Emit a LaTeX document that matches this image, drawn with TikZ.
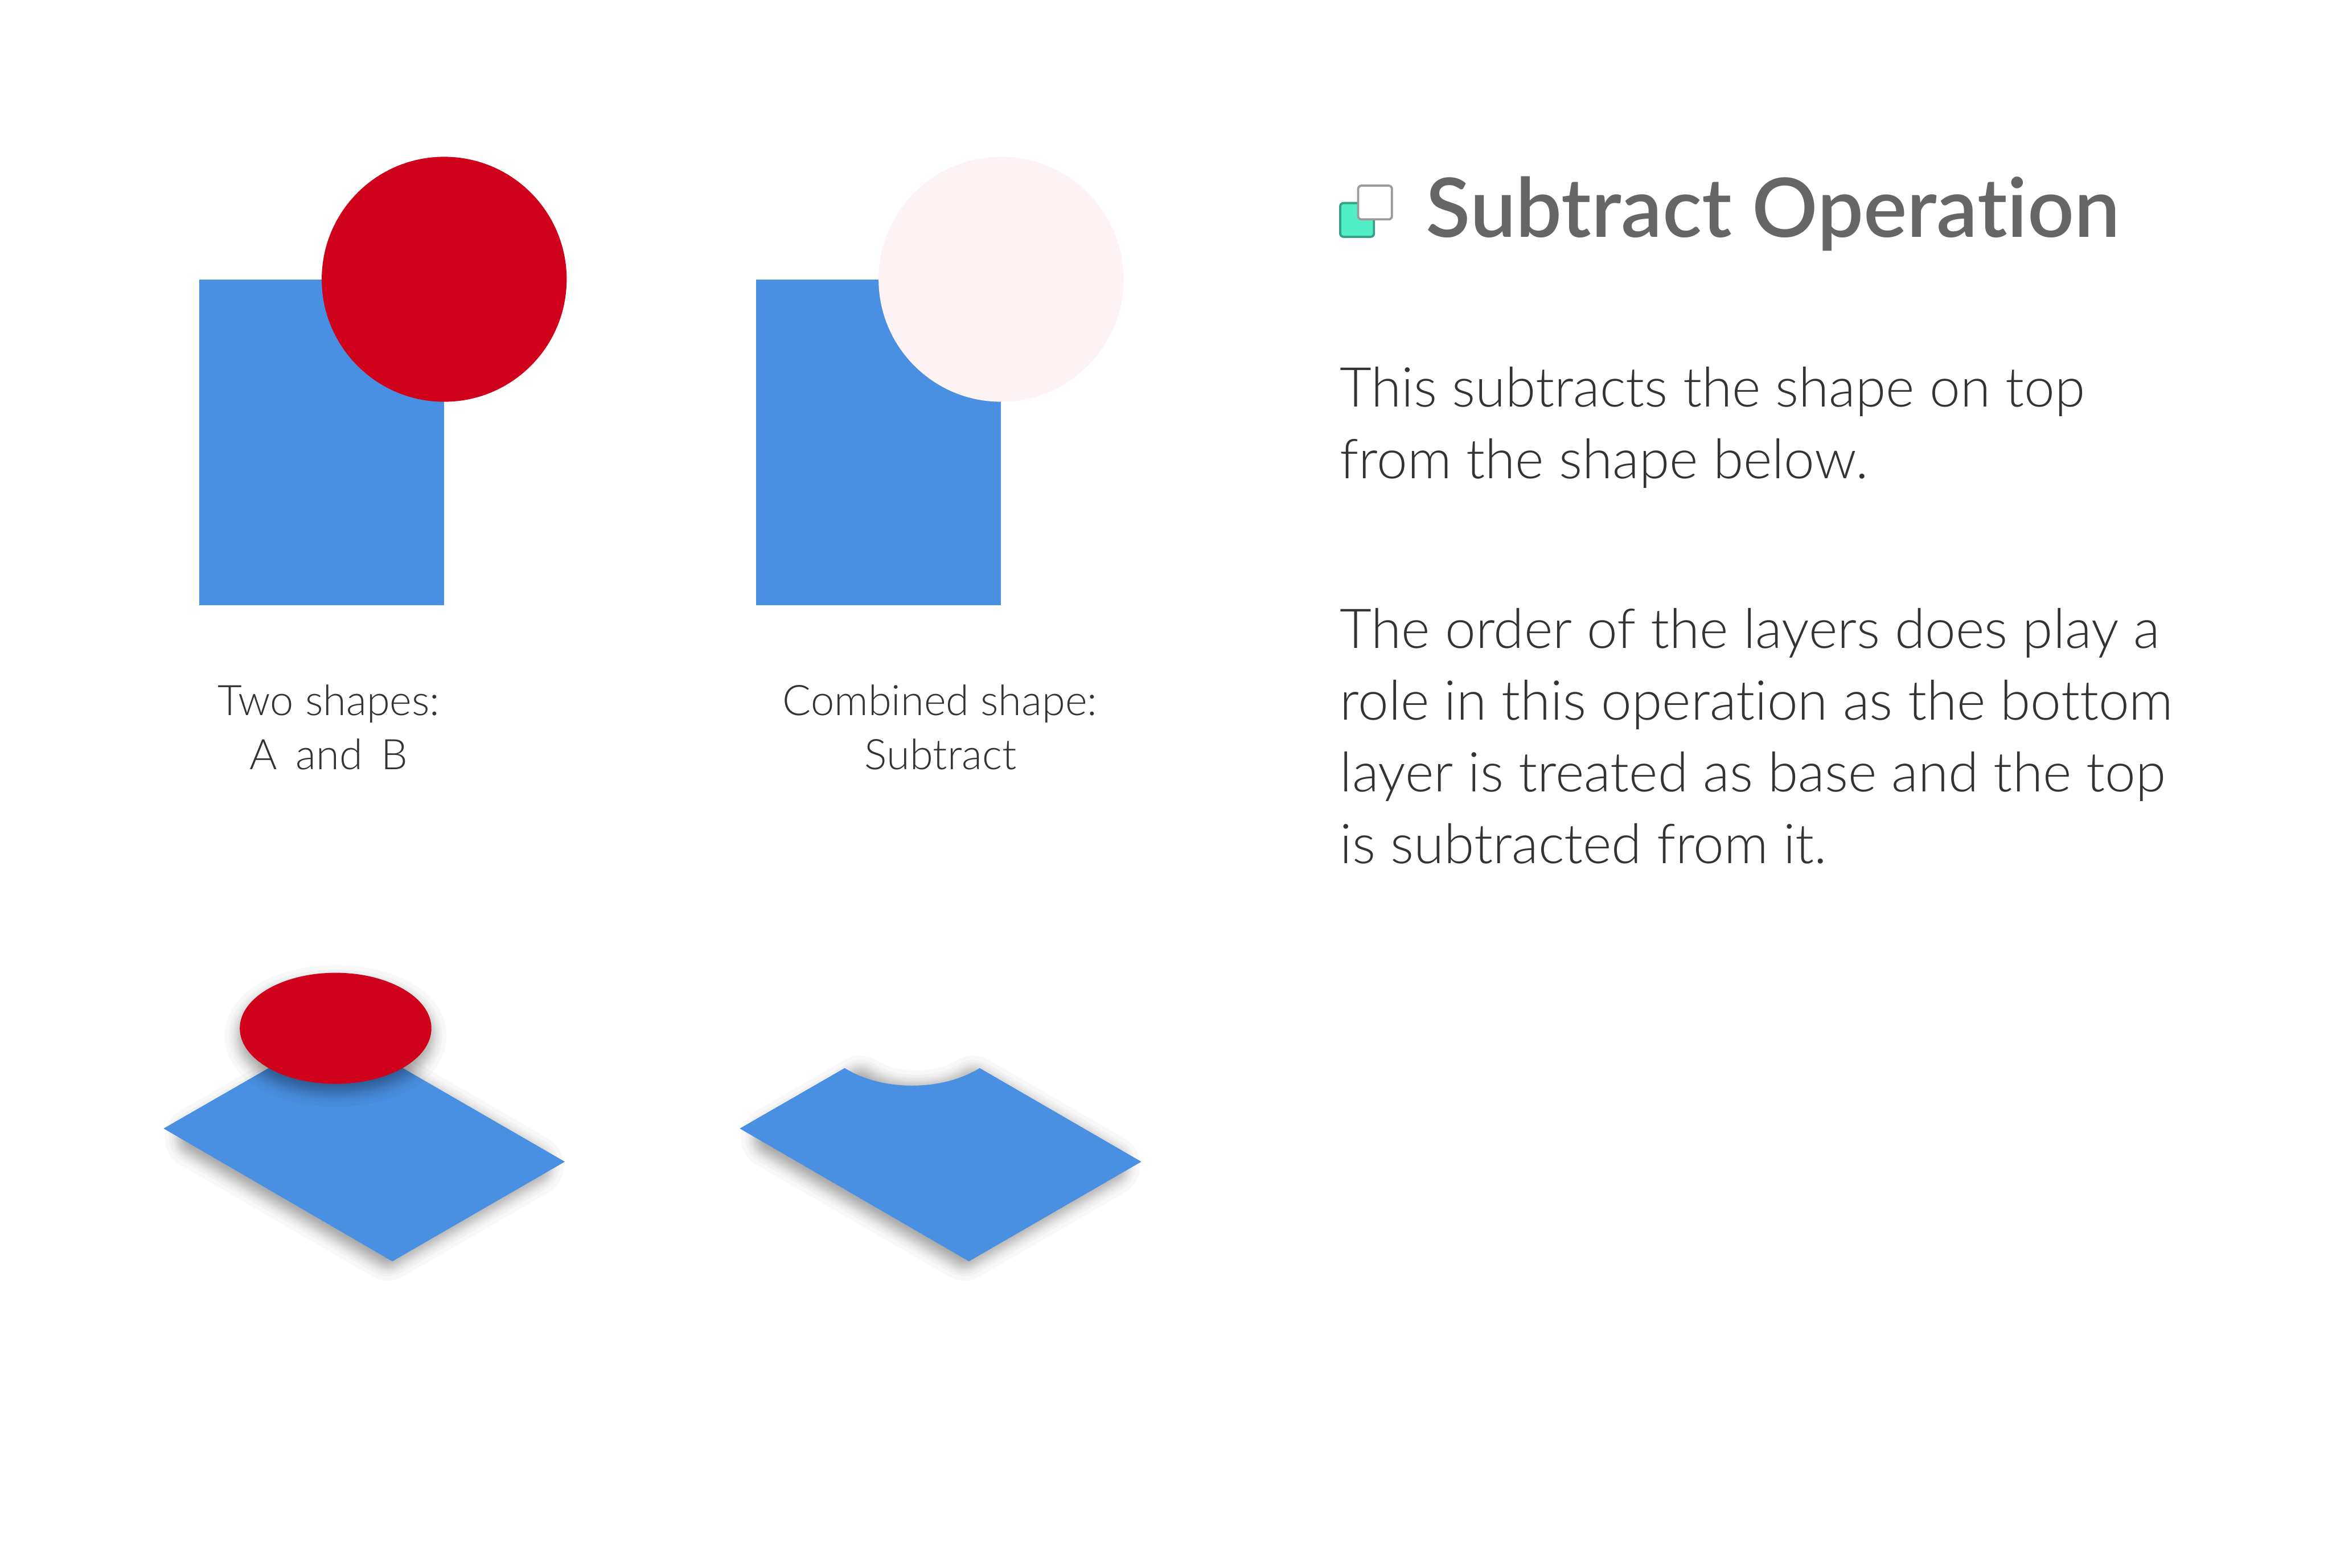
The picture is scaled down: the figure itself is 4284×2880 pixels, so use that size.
\documentclass[tikz,border=0pt]{standalone}
\usepackage{fontspec}
\setmainfont{Lato Light}[Ligatures=NoCommon]
\newfontfamily\titlefont{Lato Semibold}[Ligatures=NoCommon]
\definecolor{blueshape}{HTML}{4A90E2}
\definecolor{redshape}{HTML}{D0021B}
\definecolor{paleshape}{HTML}{FDF3F4}
\definecolor{bodytext}{HTML}{333333}
\definecolor{titlegrey}{HTML}{666666}
\definecolor{mint}{HTML}{52EFC6}
\definecolor{mintedge}{HTML}{35A086}
\definecolor{iconedge}{HTML}{9B9B9B}
\tikzset{
  x=0.01cm,y=-0.01cm,
  bodytxt/.style={anchor=base west,inner sep=0pt,text=bodytext,font=\fontsize{28.7}{37.5}\selectfont},
  captxt/.style={anchor=base,inner sep=0pt,text=bodytext,font=\fontsize{22}{28.3}\selectfont},
  shadowstroke/.style={draw=black,line join=round,draw opacity=0.027,fill=none},
  softcore/.style n args={3}{shift={(#1,#2+12)},scale=#3,shift={(-#1,-#2)}}
}
% #1 options placing the shadow core, #2 path: stacked strokes with Gaussian spacing
\newcommand{\softshadow}[2]{%
  \foreach \d in {2.1,10.2,14.9,18.3,21.3,24,26.4,28.8,31.2,33.6,36,38.7,41.7,45.1,49.8,57.9}{%
    \draw[shadowstroke,line width=2*\d*0.01cm,#1] #2;}}
\begin{document}
\begin{tikzpicture}
\useasboundingbox (0,0) rectangle (4284,2880);
\fill[white] (0,0) rectangle (4284,2880);
% top left
\fill[blueshape] (366,513) rectangle (816,1112);
\fill[redshape] (816,513) circle[radius=225];
% top middle
\fill[blueshape] (1389,513) rectangle (1839,1112);
\fill[paleshape] (1839,513) circle[radius=225];
% captions
\node[captxt] (capa1) at (604,1314) {Two shapes:};
\node[captxt] (capa2) at (604,1413) {A\, and\, B};
\node[captxt] (capb1) at (1727,1314) {Combined shape:};
\node[captxt] (capb2) at (1728,1413) {Subtract};
% iso left
\softshadow{softcore={669}{2104}{0.837}}{(617,1891) -- (1037.6,2134) -- (720.7,2317) -- (300.5,2073) -- cycle}
\fill[blueshape] (617,1891) -- (1037.6,2134) -- (720.7,2317) -- (300.5,2073) -- cycle;
\softshadow{}{(616.5,1903) ellipse[x radius=146,y radius=72]}
\fill[redshape] (616.5,1889) ellipse[x radius=176,y radius=102];
% iso right
\softshadow{softcore={1728}{2104}{0.837}}{(1359,2073) -- (1551.7,1962) .. controls (1620,2005) and (1731,2005) .. (1799.6,1962) -- (2096.6,2134) -- (1780,2317) -- cycle}
\fill[blueshape] (1359,2073) -- (1551.7,1962) .. controls (1620,2005) and (1731,2005) .. (1799.6,1962) -- (2096.6,2134) -- (1780,2317) -- cycle;
% icon
\draw[mintedge,fill=mint,line width=4*0.01cm,rounded corners=0.06cm] (2462,373) rectangle (2524,435);
\draw[iconedge,fill=white,line width=4*0.01cm,rounded corners=0.06cm] (2495,341) rectangle (2557,403);
% text
\node[anchor=base west,inner sep=0pt,text=titlegrey,font=\titlefont\fontsize{42.8}{48}\selectfont] (title) at (2619,436) {Subtract Operation};
\node[bodytxt] (para1a) at (2461,747) {This subtracts the shape on top};
\node[bodytxt] (para1b) at (2461,879) {from the shape below.};
\node[bodytxt] (para2a) at (2461,1191) {The order of the layers does play a};
\node[bodytxt] (para2b) at (2461,1322) {role in this operation as the bottom};
\node[bodytxt] (para2c) at (2461,1454) {layer is treated as base and the top};
\node[bodytxt] (para2d) at (2461,1586) {is subtracted from it.};
\end{tikzpicture}
\end{document}
